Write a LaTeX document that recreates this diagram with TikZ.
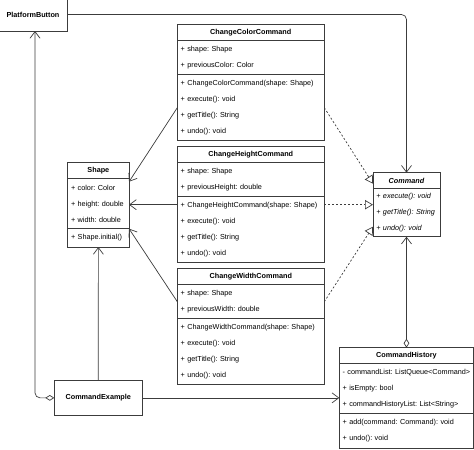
\documentclass[tikz,border=0pt]{standalone}
\usepackage{fontspec}
\setmainfont{Liberation Sans}
\usetikzlibrary{positioning, arrows.meta, calc}
\definecolor{umlline}{RGB}{60,60,60}
\frenchspacing

\tikzset{
    ctitle/.style={draw=umlline, line width=0.6pt, anchor=north west, inner sep=0pt, outer sep=0pt,
        font=\fontsize{6.2}{13.66}\selectfont\bfseries},
    cpart/.style={draw=umlline, line width=0.6pt, anchor=north, inner xsep=0.1cm, inner ysep=0pt, outer sep=0pt,
        align=left, font=\fontsize{6.2}{13.66}\selectfont},
    uarrow/.style={draw=umlline, line width=0.6pt, -{Straight Barb[length=0.2cm,width=0.3cm]}},
    realize/.style={draw=umlline, line width=0.6pt, dash pattern=on 0.06cm off 0.06cm,
        -{Triangle[open,length=0.24cm,width=0.28cm]}},
    aggr/.style={draw=umlline, line width=0.6pt,
        {Diamond[open,length=0.27cm,width=0.17cm]}-{Straight Barb[length=0.2cm,width=0.3cm]}}
}

\begin{document}
\begin{tikzpicture}[x=0.03cm, y=-0.03cm]
    \useasboundingbox (0,0) rectangle (474,450);
    \clip (0,0) rectangle (474,450);

    % --- plain classes ---
    \node[ctitle, minimum width=2.04cm, minimum height=0.99cm] (pb) at (-1,-2) {PlatformButton};
    \node[ctitle, minimum width=2.64cm, minimum height=1.03cm] (cex) at (54.3,380.7) {CommandExample};

    % --- Shape ---
    \node[ctitle, minimum width=1.84cm, minimum height=0.48cm] (shape) at (67.7,162.7) {Shape};
    \node[cpart, text width=1.64cm, minimum height=1.5cm, below=0pt of shape] (shape-a)
        {+ color: Color\\+ height: double\\+ width: double};
    \node[cpart, text width=1.64cm, minimum height=0.55cm, below=0pt of shape-a] (shape-m)
        {+ Shape.initial()};

    % --- the three commands ---
    \node[ctitle, minimum width=4.41cm, minimum height=0.48cm] (ccc) at (177.3,24.7) {ChangeColorCommand};
    \node[cpart, text width=4.21cm, minimum height=1.02cm, below=0pt of ccc] (ccc-a)
        {+ shape: Shape\\+ previousColor: Color};
    \node[cpart, text width=4.21cm, minimum height=1.98cm, below=0pt of ccc-a] (ccc-m)
        {+ ChangeColorCommand(shape: Shape)\\+ execute(): void\\+ getTitle(): String\\+ undo(): void};

    \node[ctitle, minimum width=4.41cm, minimum height=0.48cm] (chc) at (177.3,146.7) {ChangeHeightCommand};
    \node[cpart, text width=4.21cm, minimum height=1.02cm, below=0pt of chc] (chc-a)
        {+ shape: Shape\\+ previousHeight: double};
    \node[cpart, text width=4.21cm, minimum height=1.98cm, below=0pt of chc-a] (chc-m)
        {+ ChangeHeightCommand(shape: Shape)\\+ execute(): void\\+ getTitle(): String\\+ undo(): void};

    \node[ctitle, minimum width=4.41cm, minimum height=0.48cm] (cwc) at (177.3,268.7) {ChangeWidthCommand};
    \node[cpart, text width=4.21cm, minimum height=1.02cm, below=0pt of cwc] (cwc-a)
        {+ shape: Shape\\+ previousWidth: double};
    \node[cpart, text width=4.21cm, minimum height=1.98cm, below=0pt of cwc-a] (cwc-m)
        {+ ChangeWidthCommand(shape: Shape)\\+ execute(): void\\+ getTitle(): String\\+ undo(): void};

    % --- Command interface ---
    \node[ctitle, minimum width=2.01cm, minimum height=0.48cm, font=\fontsize{6.2}{13.66}\selectfont\bfseries\itshape]
        (cmd) at (373,172.7) {Command};
    \node[cpart, text width=1.81cm, minimum height=1.44cm, below=0pt of cmd, font=\fontsize{6.2}{13.66}\selectfont\itshape]
        (cmd-m) {+ execute(): void\\+ getTitle(): String\\+ undo(): void};
    \coordinate (cmdw) at ($(cmd.north west)!0.5!(cmd-m.south west)$);

    % --- CommandHistory ---
    \node[ctitle, minimum width=4.03cm, minimum height=0.47cm] (ch) at (339.3,347.7) {CommandHistory};
    \node[cpart, text width=3.83cm, minimum height=1.5cm, below=0pt of ch] (ch-a)
        {\mbox{- commandList: ListQueue<Command>}\\+ isEmpty: bool\\+ commandHistoryList: List<String>};
    \node[cpart, text width=3.83cm, minimum height=1.05cm, below=0pt of ch-a] (ch-m)
        {+ add(command: Command): void\\+ undo(): void};

    % --- connectors ---
    \draw[uarrow, rounded corners=0.15cm] (pb.east) -| (cmd.north);
    \draw[aggr, rounded corners=0.15cm] (cex.west) -| ([xshift=0.06cm]pb.south);
    \draw[uarrow] (cex.north) -- (shape-m.south);
    \draw[uarrow] (cex.east) -- (cex.east -| ch-a.west);
    \draw[aggr] (ch.north) -- (cmd-m.south);

    \draw[uarrow] (ccc-m.west) -- ([yshift=-0.09cm]shape-a.north east);
    \draw[uarrow] (chc-m.west |- cmdw) -- (shape-a.east |- cmdw);
    \draw[uarrow] (cwc-a.west) -- (shape-a.south east);

    \draw[realize] (ccc-m.east) -- ([yshift=0.15cm]cmd.south west);
    \draw[realize] (chc-m.east |- cmdw) -- (cmdw);
    \draw[realize] (cwc-a.east) -- ([yshift=0.3cm]cmd-m.south west);
\end{tikzpicture}
\end{document}
